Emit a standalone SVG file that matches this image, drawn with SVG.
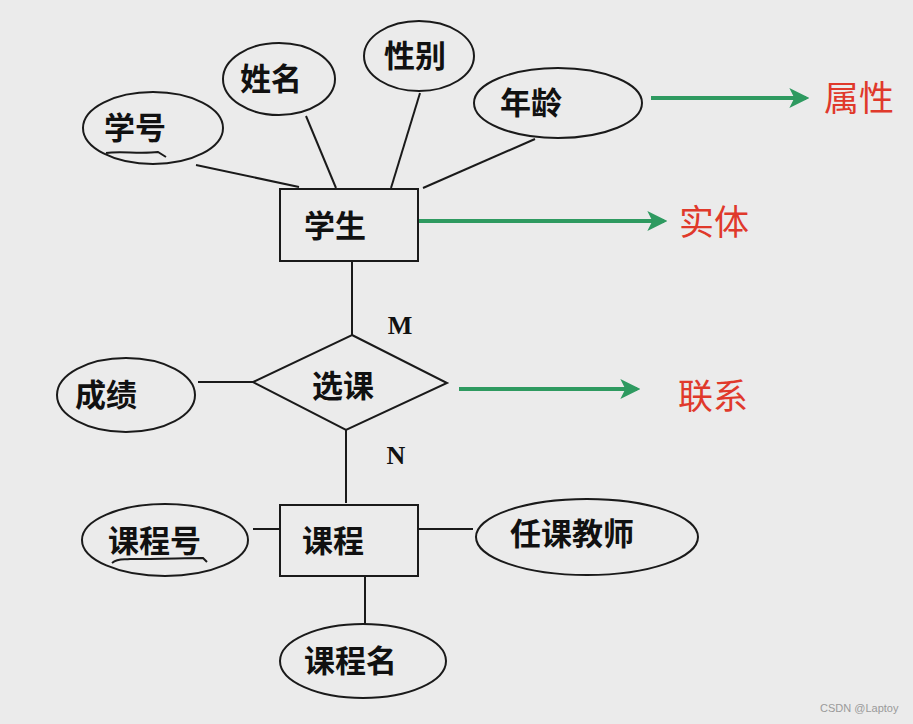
<svg xmlns="http://www.w3.org/2000/svg" width="913" height="724" viewBox="0 0 913 724">
<defs>
<style>
.bg{fill:#ebebeb}
.shape{fill:none;stroke:#1a1a1a;stroke-width:2}
.line{stroke:#1a1a1a;stroke-width:2;fill:none}
.lbl{font-family:"Noto Sans CJK SC","Noto Sans CJK JP",sans-serif;font-size:31px;font-weight:bold;fill:#111;dominant-baseline:central}
.card{font-family:"Liberation Serif",serif;font-size:26px;font-weight:bold;fill:#111;dominant-baseline:central;text-anchor:middle}
.red{font-family:"Noto Sans CJK SC","Noto Sans CJK JP",sans-serif;font-size:35px;fill:#e0392b;dominant-baseline:central}
.green{stroke:#2e9a60;stroke-width:4;fill:none}
.wm{font-family:"Liberation Sans",sans-serif;font-size:11px;fill:#9a9a9a}
</style>
<marker id="ga" viewBox="0 0 12 12" refX="10" refY="6" markerWidth="5" markerHeight="5" markerUnits="strokeWidth" orient="auto">
<path d="M0,0 L12,6 L0,12 L3,6 Z" fill="#2e9a60"/>
</marker>
</defs>
<rect class="bg" x="0" y="0" width="913" height="724"/>

<g id="connectors">
<line class="line" x1="196" y1="165" x2="299" y2="187"/>
<line class="line" x1="306" y1="116" x2="336" y2="188"/>
<line class="line" x1="420" y1="93" x2="391" y2="188"/>
<line class="line" x1="535" y1="139" x2="423" y2="188"/>
<line class="line" x1="352" y1="262" x2="352" y2="335"/>
<line class="line" x1="198" y1="382" x2="253" y2="382"/>
<line class="line" x1="346" y1="430" x2="346" y2="503"/>
<line class="line" x1="253" y1="529" x2="280" y2="529"/>
<line class="line" x1="418" y1="529" x2="473" y2="529"/>
<line class="line" x1="365" y1="576" x2="365" y2="624"/>
<line class="green" x1="651" y1="98" x2="806" y2="98" marker-end="url(#ga)"/>
<line class="green" x1="419" y1="221" x2="664" y2="221" marker-end="url(#ga)"/>
<line class="green" x1="459" y1="389" x2="637" y2="389" marker-end="url(#ga)"/>
<text class="card" x="400" y="325">M</text>
<text class="card" x="396" y="455">N</text>
</g>

<g id="xuehao">
<ellipse class="shape" cx="153" cy="128" rx="70" ry="36"/>
<text class="lbl" x="104" y="125">学号</text>
<path class="line" d="M106,153 C120,151 140,154 158,152 L166,157"/>
</g>
<g id="xingming">
<ellipse class="shape" cx="279" cy="79" rx="56" ry="36"/>
<text class="lbl" x="240" y="76">姓名</text>
</g>
<g id="xingbie">
<ellipse class="shape" cx="419" cy="56" rx="55" ry="35"/>
<text class="lbl" x="384" y="53">性别</text>
</g>
<g id="nianling">
<ellipse class="shape" cx="558" cy="103" rx="84" ry="35"/>
<text class="lbl" x="500" y="100">年龄</text>
</g>
<g id="xuesheng">
<rect class="shape" x="280" y="189" width="138" height="72"/>
<text class="lbl" x="304" y="223">学生</text>
</g>
<g id="xuanke">
<polygon class="shape" points="352,335 447,383 346,430 253,382"/>
<text class="lbl" x="312" y="383">选课</text>
</g>
<g id="chengji">
<ellipse class="shape" cx="126" cy="395" rx="69" ry="37"/>
<text class="lbl" x="75" y="392">成绩</text>
</g>
<g id="kecheng">
<rect class="shape" x="280" y="505" width="138" height="71"/>
<text class="lbl" x="302" y="538">课程</text>
</g>
<g id="kechenghao">
<ellipse class="shape" cx="165" cy="540" rx="83" ry="36"/>
<text class="lbl" x="108" y="538">课程号</text>
<path class="line" d="M112,563 C118,558 124,560 130,559 C160,559 185,558 203,558 L207,562"/>
</g>
<g id="renkejiaoshi">
<ellipse class="shape" cx="587" cy="537" rx="111" ry="38"/>
<text class="lbl" x="510" y="531">任课教师</text>
</g>
<g id="kechengming">
<ellipse class="shape" cx="363" cy="661" rx="83" ry="37"/>
<text class="lbl" x="304" y="658">课程名</text>
</g>

<g id="legend">
<text class="red" x="824" y="95">属性</text>
<text class="red" x="679" y="219">实体</text>
<text class="red" x="678" y="393">联系</text>
</g>
<text class="wm" x="820" y="712">CSDN @Laptoy</text>
</svg>
